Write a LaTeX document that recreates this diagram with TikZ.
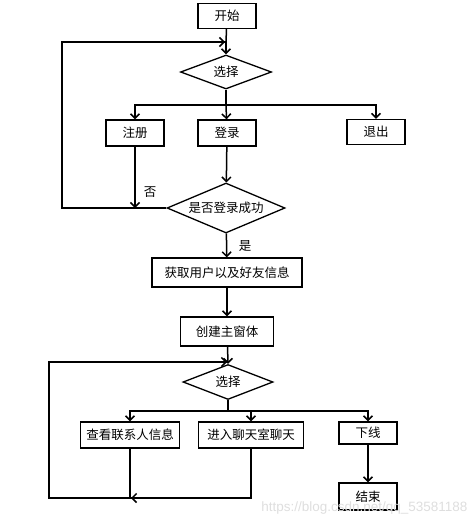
\documentclass[tikz,border=0pt]{standalone}
\usepackage{fontspec}
\newfontfamily\cjk{Noto Sans CJK SC}
\newfontfamily\wmfont{Liberation Sans}
\usetikzlibrary{shapes.geometric,arrows.meta}
\tikzset{
  box/.style={draw,line width=1.3pt,rectangle,inner sep=0pt,font=\cjk\fontsize{12.5}{14}\selectfont},
  choice/.style={draw,line width=1.3pt,diamond,inner sep=0pt,font=\cjk\fontsize{12.5}{14}\selectfont},
  flow/.style={line width=1.5pt,-{Straight Barb[length=4.5pt,width=9pt]}},
  link/.style={line width=1.5pt},
  lbl/.style={font=\cjk\fontsize{12.5}{14}\selectfont}
}
\begin{document}
\begin{tikzpicture}[x=1pt,y=-1pt]
\useasboundingbox (0,0) rectangle (474,525);
% upper part
\node[box,minimum width=58pt,minimum height=25pt] (start) at (227,16) {开始};
\node[choice,minimum width=91pt,minimum height=34pt,aspect=2.7] (sel) at (226,72) {选择};
\node[box,minimum width=58pt,minimum height=26pt] (reg) at (135,133) {注册};
\node[box,minimum width=58pt,minimum height=26pt] (login) at (227,133) {登录};
\node[box,minimum width=58pt,minimum height=25pt] (quit) at (376,132) {退出};
\node[choice,minimum width=118pt,minimum height=50pt,aspect=2.36] (ok) at (226,208) {是否登录成功};
\node[lbl] (no) at (150,192) {否};
\node[lbl] (yes) at (245,246) {是};
\coordinate (top) at (226,42);
\coordinate (split) at (226,105);
\coordinate (back) at (62,208);
\coordinate (join) at (135,208);
\draw[link] (start) -- (top);
\draw[flow] (top) -- (sel);
\draw[link] (sel) -- (split);
\draw[flow] (split) -| (reg);
\draw[flow] (split) -- (login);
\draw[flow] (split) -| (quit);
\draw[flow] (login) -- (ok);
\draw[flow] (reg) -- (join);
\draw[link] (ok) -- (back) |- (top);
\draw[flow] (back |- top) -- ([xshift=-1pt]top);
% lower part
\node[box,minimum width=150pt,minimum height=29pt] (info) at (227,272.5) {获取用户以及好友信息};
\node[box,minimum width=93pt,minimum height=29pt] (main) at (227,331.5) {创建主窗体};
\node[choice,minimum width=90pt,minimum height=35pt,aspect=2.57] (sel2) at (228,382) {选择};
\node[box,minimum width=99pt,minimum height=26pt] (view) at (130,435) {查看联系人信息};
\node[box,minimum width=105pt,minimum height=26pt] (chat) at (251,435) {进入聊天室聊天};
\node[box,minimum width=58pt,minimum height=22pt] (off) at (368,433) {下线};
\node[box,minimum width=58pt,minimum height=27pt] (end) at (368,496.5) {结束};
\coordinate (top2) at (228,362);
\coordinate (split2) at (228,411);
\coordinate (back2) at (49,498);
\coordinate (join2) at (130,498);
\draw[flow] (ok) -- (info);
\draw[flow] (info) -- (main);
\draw[link] (main) -- (top2);
\draw[flow] (top2) -- (sel2);
\draw[link] (sel2) -- (split2);
\draw[flow] (split2) -| (view);
\draw[flow] (split2) -| (chat);
\draw[flow] (split2) -| (off);
\draw[flow] (off) -- (end);
\draw[link] (view) -- (join2);
\draw[link] (chat) |- (join2);
\draw[flow] (chat |- join2) -- ([xshift=1pt]join2);
\draw[link] (join2) -- (back2) |- (top2);
\draw[flow] (back2 |- top2) -- ([xshift=-1pt]top2);
% watermark
\node[text=black!13,font=\wmfont\fontsize{13.5}{15}\selectfont,anchor=east] (mark) at (471,508) {https://blog.csdn.net/qq\_53581188};
\end{tikzpicture}
\end{document}
